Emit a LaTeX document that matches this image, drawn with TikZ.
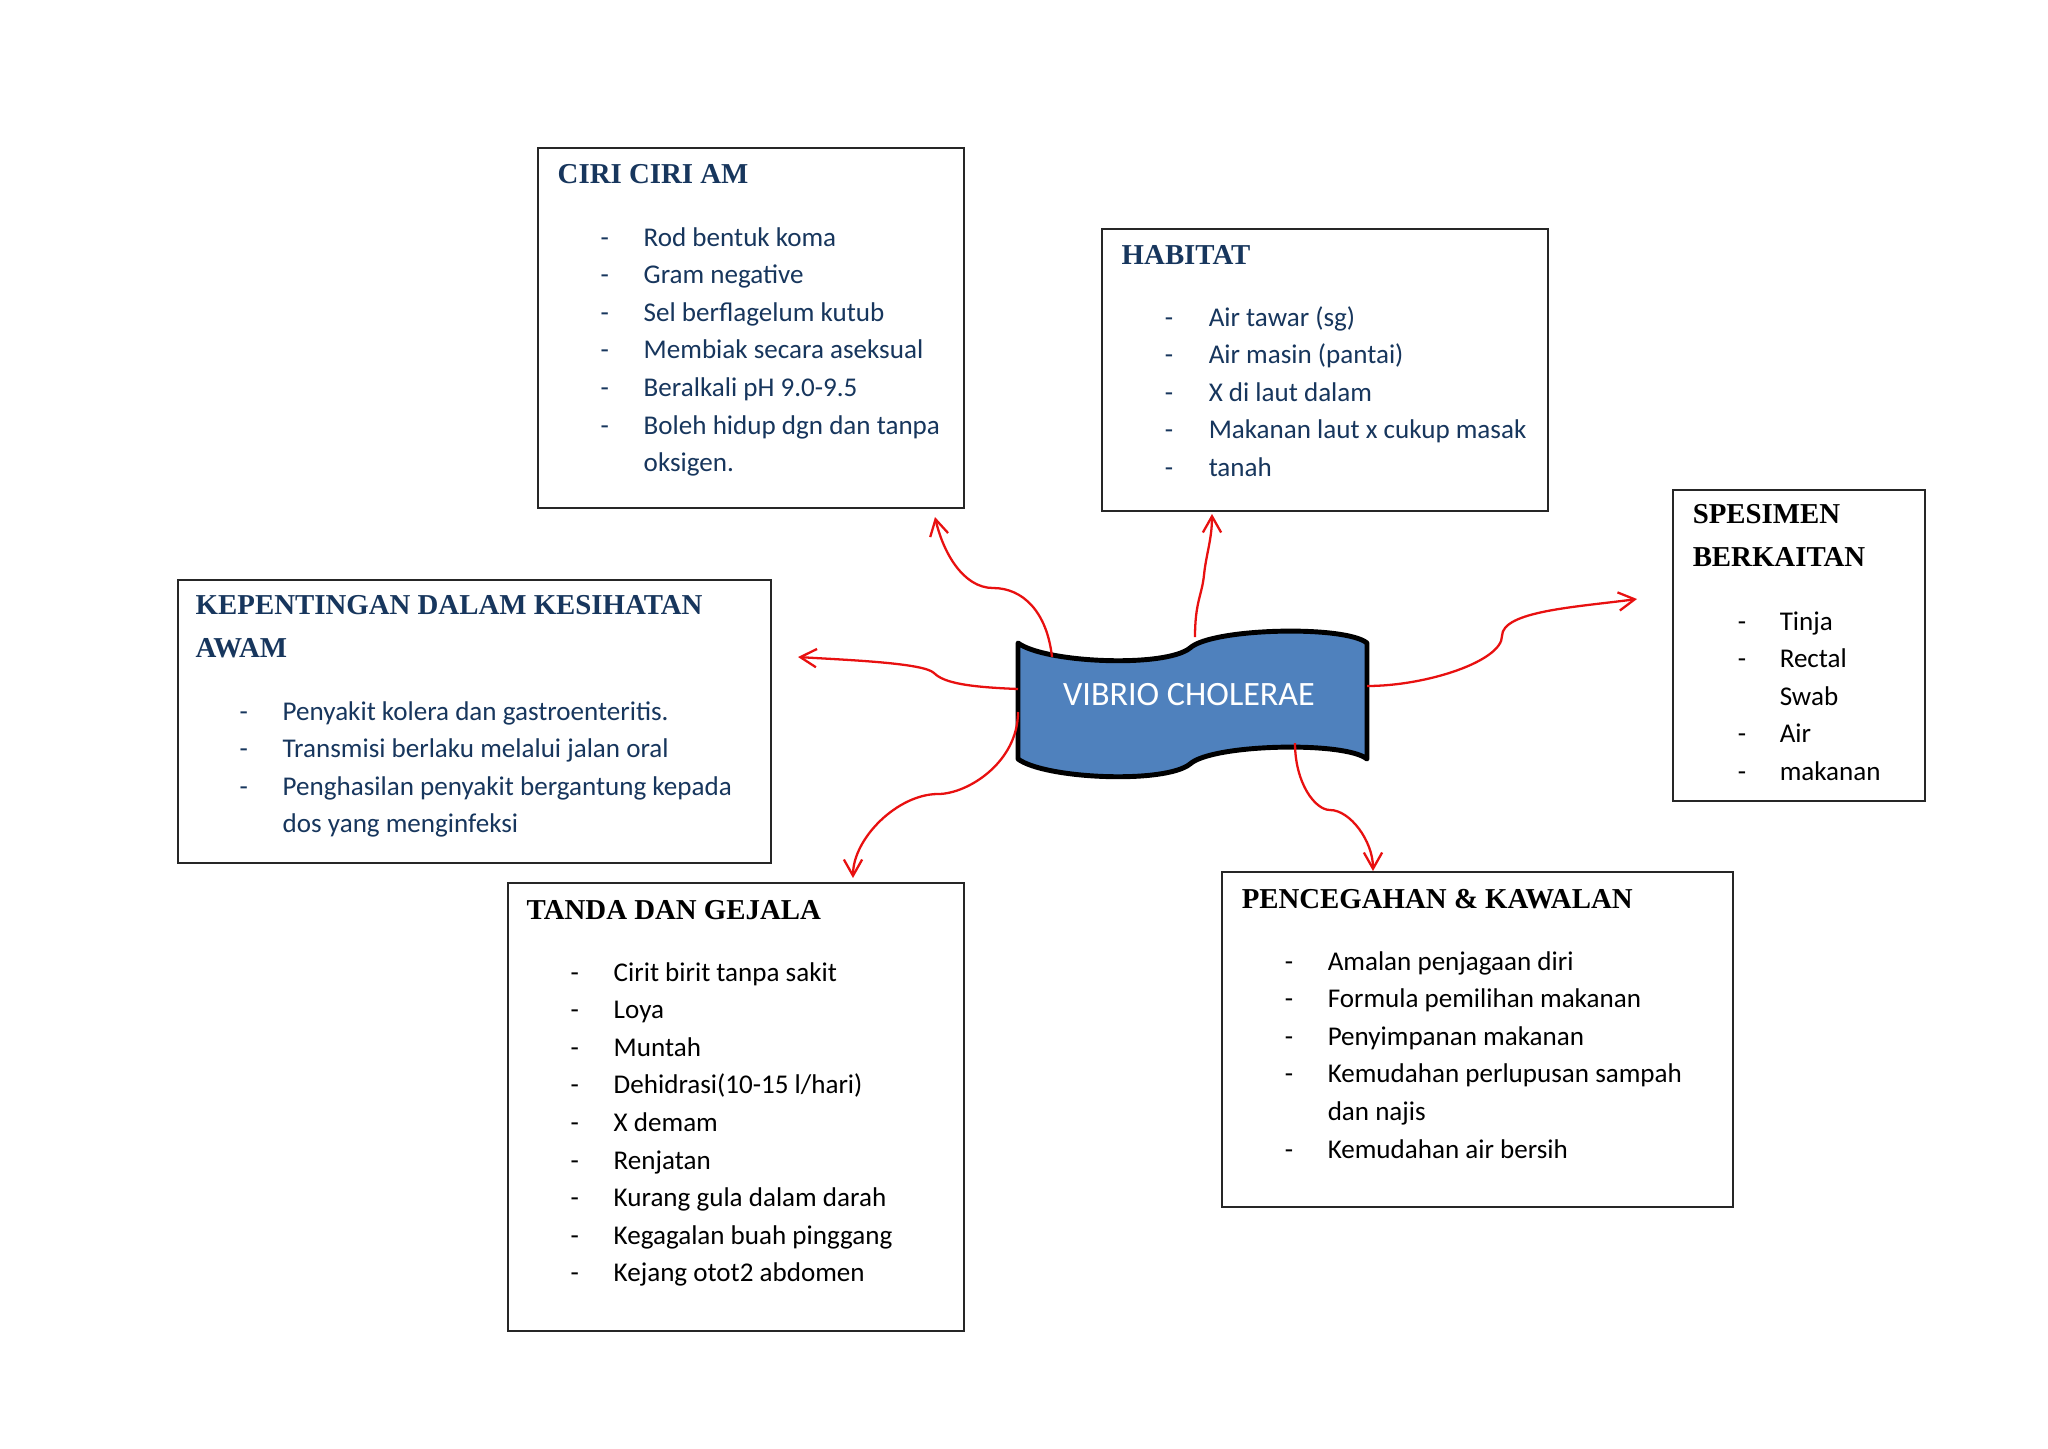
\documentclass[tikz,border=0pt]{standalone}
\usepackage{fontspec}
\setmainfont{Liberation Serif}
\setsansfont{Carlito}
\usetikzlibrary{arrows.meta,positioning,calc,fit}
\definecolor{navytext}{RGB}{23,54,93}
\definecolor{bannerblue}{RGB}{79,129,189}
\definecolor{linkred}{RGB}{232,16,16}
\def\rowgap{37.6}
\tikzset{
  infobox/.style = {draw=black!85, line width=0.55pt, inner sep=0pt},
  boxhead/.style = {anchor=base west, inner sep=0pt, align=left,
                    font=\bfseries\fontsize{8.2}{12.2}\selectfont},
  boxdash/.style = {anchor=base west, inner sep=0pt,
                    font=\sffamily\fontsize{7.7}{9}\selectfont},
  boxitem/.style = {boxdash},
  banner/.style  = {fill=bannerblue, draw=black, line width=1.4pt, line join=round},
  bannertext/.style = {text=white, font=\sffamily\fontsize{9.7}{11}\selectfont},
  link/.style    = {-{Straight Barb[length=4.6pt,width=5.2pt]},
                    draw=linkred, line width=0.65pt}
}

\begin{document}
\begin{tikzpicture}[x=0.01cm,y=-0.01cm]

\fill[white] (0,0) rectangle (2048,1448);
\useasboundingbox (0,0) rectangle (2048,1448);

% --- boxes ---
\node[infobox, fit={(538,148) (964,508)}]   (ciri) {};
\node[infobox, fit={(1102,229) (1548,511)}] (habitat) {};
\node[infobox, fit={(178,580) (771,863)}]   (kep) {};
\node[infobox, fit={(1673,490) (1925,801)}] (spes) {};
\node[infobox, fit={(508,883) (964,1331)}]  (tanda) {};
\node[infobox, fit={(1222,872) (1733,1207)}] (cegah) {};

% --- headings (base = last line) ---
\node[boxhead, text=navytext] (ciri-h)    at ($(ciri.north west)+(20,36)$)    {CIRI CIRI AM};
\node[boxhead, text=navytext] (habitat-h) at ($(habitat.north west)+(20,36)$) {HABITAT};
\node[boxhead, text=navytext] (kep-h)     at ($(kep.north west)+(18,78)$)     {KEPENTINGAN DALAM KESIHATAN\\AWAM};
\node[boxhead]                (spes-h)    at ($(spes.north west)+(20,77)$)    {SPESIMEN\\BERKAITAN};
\node[boxhead]                (tanda-h)   at ($(tanda.north west)+(19,37)$)   {TANDA DAN GEJALA};
\node[boxhead]                (cegah-h)   at ($(cegah.north west)+(20,37)$)   {PENCEGAHAN \& KAWALAN};

% --- item lists ---
\foreach \d/\t [count=\i] in {{-}/{Rod bentuk koma}, {-}/{Gram negative},
    {-}/{Sel berflagelum kutub}, {-}/{Membiak secara aseksual},
    {-}/{Beralkali pH 9.0-9.5}, {-}/{Boleh hidup dgn dan tanpa}, {}/{oksigen.}}{
  \node[boxdash, text=navytext] (ciri-d\i) at ($(ciri.north west)+(63,{99+\rowgap*(\i-1)})$) {\d};
  \node[boxitem, text=navytext] (ciri-\i)  at ($(ciri.north west)+(106,{99+\rowgap*(\i-1)})$) {\t};
}

\foreach \d/\t [count=\i] in {{-}/{Air tawar (sg)}, {-}/{Air masin (pantai)},
    {-}/{X di laut dalam}, {-}/{Makanan laut x cukup masak}, {-}/{tanah}}{
  \node[boxdash, text=navytext] (habitat-d\i) at ($(habitat.north west)+(63,{98+\rowgap*(\i-1)})$) {\d};
  \node[boxitem, text=navytext] (habitat-\i)  at ($(habitat.north west)+(107,{98+\rowgap*(\i-1)})$) {\t};
}

\foreach \d/\t [count=\i] in {{-}/{Penyakit kolera dan gastroenteritis.},
    {-}/{Transmisi berlaku melalui jalan oral},
    {-}/{Penghasilan penyakit bergantung kepada}, {}/{dos yang menginfeksi}}{
  \node[boxdash, text=navytext] (kep-d\i) at ($(kep.north west)+(62,{141+\rowgap*(\i-1)})$) {\d};
  \node[boxitem, text=navytext] (kep-\i)  at ($(kep.north west)+(105,{141+\rowgap*(\i-1)})$) {\t};
}

\foreach \d/\t [count=\i] in {{-}/{Tinja}, {-}/{Rectal}, {}/{Swab}, {-}/{Air}, {-}/{makanan}}{
  \node[boxdash] (spes-d\i) at ($(spes.north west)+(65,{141+\rowgap*(\i-1)})$) {\d};
  \node[boxitem] (spes-\i)  at ($(spes.north west)+(107,{141+\rowgap*(\i-1)})$) {\t};
}

\foreach \d/\t [count=\i] in {{-}/{Cirit birit tanpa sakit}, {-}/{Loya}, {-}/{Muntah},
    {-}/{Dehidrasi(10-15 l/hari)}, {-}/{X demam}, {-}/{Renjatan},
    {-}/{Kurang gula dalam darah}, {-}/{Kegagalan buah pinggang},
    {-}/{Kejang otot2 abdomen}}{
  \node[boxdash] (tanda-d\i) at ($(tanda.north west)+(63,{99+\rowgap*(\i-1)})$) {\d};
  \node[boxitem] (tanda-\i)  at ($(tanda.north west)+(106,{99+\rowgap*(\i-1)})$) {\t};
}

\foreach \d/\t [count=\i] in {{-}/{Amalan penjagaan diri}, {-}/{Formula pemilihan makanan},
    {-}/{Penyimpanan makanan}, {-}/{Kemudahan perlupusan sampah},
    {}/{dan najis}, {-}/{Kemudahan air bersih}}{
  \node[boxdash] (cegah-d\i) at ($(cegah.north west)+(63,{99+\rowgap*(\i-1)})$) {\d};
  \node[boxitem] (cegah-\i)  at ($(cegah.north west)+(106,{99+\rowgap*(\i-1)})$) {\t};
}

% --- central banner ---
\draw[banner] (1018,643) .. controls (1045,663) and (1165,668) .. (1190,648)
  .. controls (1212,628) and (1345,625) .. (1367,643)
  -- (1367,759) .. controls (1345,741) and (1212,744) .. (1190,764)
  .. controls (1165,784) and (1045,779) .. (1018,759) -- cycle;
\node[bannertext] (vc) at (1189,695) {VIBRIO CHOLERAE};

% --- attach points and tips ---
\coordinate (a1) at (1052,657);  \coordinate (m1) at (993,588);   \coordinate (t1) at (935,517);
\coordinate (a2) at (1195,637);  \coordinate (m2) at (1204,575);  \coordinate (t2) at (1212,514);
\coordinate (a3) at (1367,686);  \coordinate (m3) at (1502,636);  \coordinate (t3) at (1637,599);
\coordinate (a4) at (1018,689);  \coordinate (m4) at (934,673);   \coordinate (t4) at (798,657);
\coordinate (a5) at (1018,712);  \coordinate (m5) at (938,794);   \coordinate (t5) at (853,878);
\coordinate (a6) at (1295,743);  \coordinate (m6) at (1330,810);  \coordinate (t6) at (1373,871);

% --- connections (S-shaped) ---
\draw[link] (a1) .. controls +(-5,-45) and +(30,0) .. (m1) .. controls +(-30,0) and +(8,35) .. (t1);
\draw[link] (a2) .. controls +(0,-35) and +(-2,20) .. (m2) .. controls +(2,-20) and +(0,25) .. (t2);
\draw[link] (a3) .. controls +(60,0) and +(0,25) .. (m3) .. controls +(0,-25) and +(-60,8) .. (t3);
\draw[link] (a4) .. controls +(-50,-2) and +(10,10) .. (m4) .. controls +(-10,-10) and +(50,3) .. (t4);
\draw[link] (a5) .. controls +(0,50) and +(30,0) .. (m5) .. controls +(-40,0) and +(0,-40) .. (t5);
\draw[link] (a6) .. controls +(0,40) and +(-15,0) .. (m6) .. controls +(20,0) and +(0,-30) .. (t6);

\end{tikzpicture}
\end{document}
